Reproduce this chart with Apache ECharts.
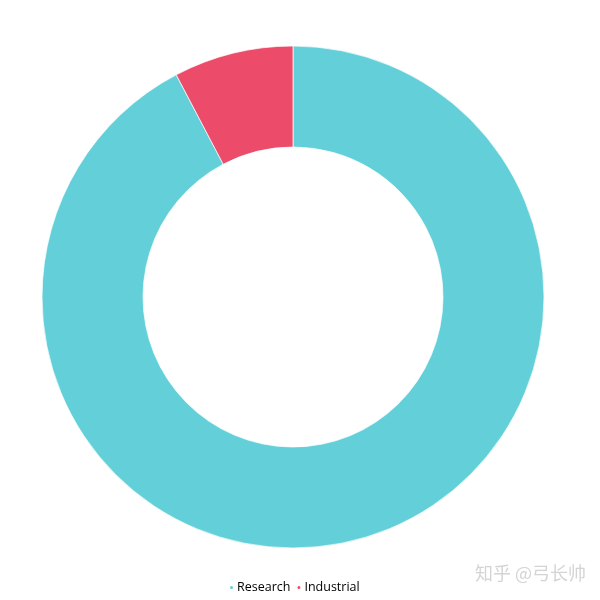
<!DOCTYPE html>
<html><head><meta charset="utf-8">
<script src="https://cdn.jsdelivr.net/npm/echarts@6/dist/echarts.min.js"></script>
<style>html,body{margin:0;padding:0;background:#fff}#c{width:600px;height:600px}</style>
</head><body><div id="c"></div>
<script>
const categories = ["Research", "Industrial"];
const values = [92.3, 7.7];
const colors = ["#63D0D9", "#EC4B69"];
const watermark = "知乎 @弓长帅";

const chart = echarts.init(document.getElementById('c'));
chart.setOption({
  animation: false,
  color: colors,
  legend: {
    data: categories,
    bottom: 1,
    left: 223,
    icon: 'circle',
    itemWidth: 5,
    itemHeight: 5,
    itemGap: 5,
    textStyle: { color: '#000', fontSize: 12.5, fontFamily: '"Open Sans", sans-serif', padding: [0, 0, 0, -2] }
  },
  graphic: [{
    type: 'text', right: 14, top: 564,
    style: { text: watermark, fill: '#d4d4d4', fontSize: 18, fontFamily: '"Noto Sans CJK SC", sans-serif' }
  }],
  series: [{
    type: 'pie',
    center: [293, 297],
    radius: [150, 251],
    startAngle: 90,
    clockwise: true,
    label: { show: false },
    labelLine: { show: false },
    itemStyle: { borderColor: '#ffffff', borderWidth: 0.7 },
    data: categories.map((c, i) => ({ name: c, value: values[i] }))
  }]
});
</script></body></html>
